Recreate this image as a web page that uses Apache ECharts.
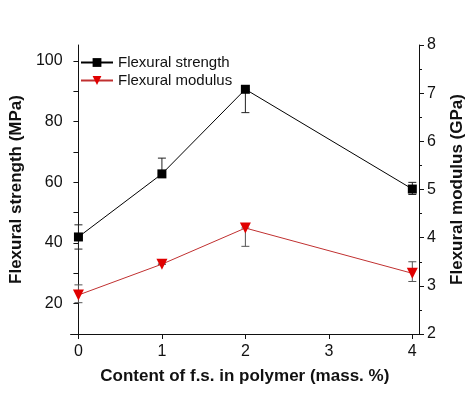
<!DOCTYPE html><html><head><meta charset="utf-8"><script src="https://cdn.jsdelivr.net/npm/echarts@6/dist/echarts.min.js"></script>
<style>html,body{margin:0;background:#fff}#c{width:474px;height:402px}</style></head><body><div id="c"></div><script>
var xs=[0,1,2,4];
var strength=[42,62.8,90.7,57.8];
var strengthLo=[38,62.8,83,56];
var strengthHi=[46,68,90.7,60];
var modulus=[2.81,3.45,4.2,3.26];
var modulusLo=[2.65,3.45,3.82,3.09];
var modulusHi=[3.02,3.45,4.2,3.5];
var leftTicks=[20,40,60,80,100];
function pairs(v){return xs.map(function(x,i){return [x,v[i]];});}
function errs(lo,hi){return xs.map(function(x,i){return [x,lo[i],hi[i]];});}
function errRender(color){return function(p,api){var x=api.value(0);var a=api.coord([x,api.value(1)]),b=api.coord([x,api.value(2)]);var w=4;var st={stroke:color,lineWidth:1};
return {type:'group',children:[{type:'line',shape:{x1:a[0],y1:a[1],x2:b[0],y2:b[1]},style:st},{type:'line',shape:{x1:a[0]-w,y1:a[1],x2:a[0]+w,y2:a[1]},style:st},{type:'line',shape:{x1:b[0]-w,y1:b[1],x2:b[0]+w,y2:b[1]},style:st}]};};}
var f='Liberation Sans';
var ch=echarts.init(document.getElementById('c'));
ch.setOption({animation:false,textStyle:{fontFamily:f},
grid:{left:68,right:51,top:45,bottom:68},
legend:{left:75,top:50,orient:'vertical',itemGap:3,itemWidth:32,itemHeight:11,textStyle:{fontSize:15,color:'#111'},data:['Flexural strength','Flexural modulus']},
xAxis:{type:'value',min:-0.094,max:4.08,interval:1,
 axisLabel:{fontSize:16,color:'#111',margin:10,customValues:[0,1,2,3,4]},axisTick:{customValues:[0,1,2,3,4],inside:false,length:5},
 minorTick:{show:false},splitLine:{show:false},axisLine:{lineStyle:{color:'#111'}},
 name:'Content of f.s. in polymer (mass. %)',nameLocation:'middle',nameGap:34,nameTextStyle:{fontSize:17,fontWeight:'bold',color:'#111'}},
yAxis:[{type:'value',min:10,max:105.3,interval:10,
 axisLabel:{fontSize:16,color:'#111',customValues:leftTicks},axisTick:{customValues:[20,30,40,50,60,70,80,90,100],length:5},
 splitLine:{show:false},axisLine:{show:true,lineStyle:{color:'#111'}},
 name:'Flexural strength (MPa)',nameLocation:'middle',nameGap:42,nameTextStyle:{fontSize:17,fontWeight:'bold',color:'#111'}},
 {type:'value',min:2,max:8,interval:1,position:'right',
 axisLabel:{fontSize:16,color:'#111'},axisTick:{length:5},minorTick:{show:true,splitNumber:2,length:3,lineStyle:{color:'#111'}},
 splitLine:{show:false},axisLine:{show:true,lineStyle:{color:'#111'}},
 name:'Flexural modulus (GPa)',nameLocation:'middle',nameGap:30,nameRotate:90,nameTextStyle:{fontSize:17,fontWeight:'bold',color:'#111'}}],
series:[
 {type:'custom',yAxisIndex:0,data:errs(strengthLo,strengthHi),renderItem:errRender('#222'),z:1},
 {type:'custom',yAxisIndex:1,data:errs(modulusLo,modulusHi),renderItem:errRender('#555'),z:1},
 {name:'Flexural strength',type:'line',yAxisIndex:0,data:pairs(strength),symbol:'rect',symbolSize:9,lineStyle:{color:'#000',width:1},itemStyle:{color:'#000'},z:3},
 {name:'Flexural modulus',type:'line',yAxisIndex:1,data:pairs(modulus),symbol:'triangle',symbolRotate:180,symbolSize:11,lineStyle:{color:'#c03030',width:1},itemStyle:{color:'#e00000'},z:3}
]});
</script></body></html>
